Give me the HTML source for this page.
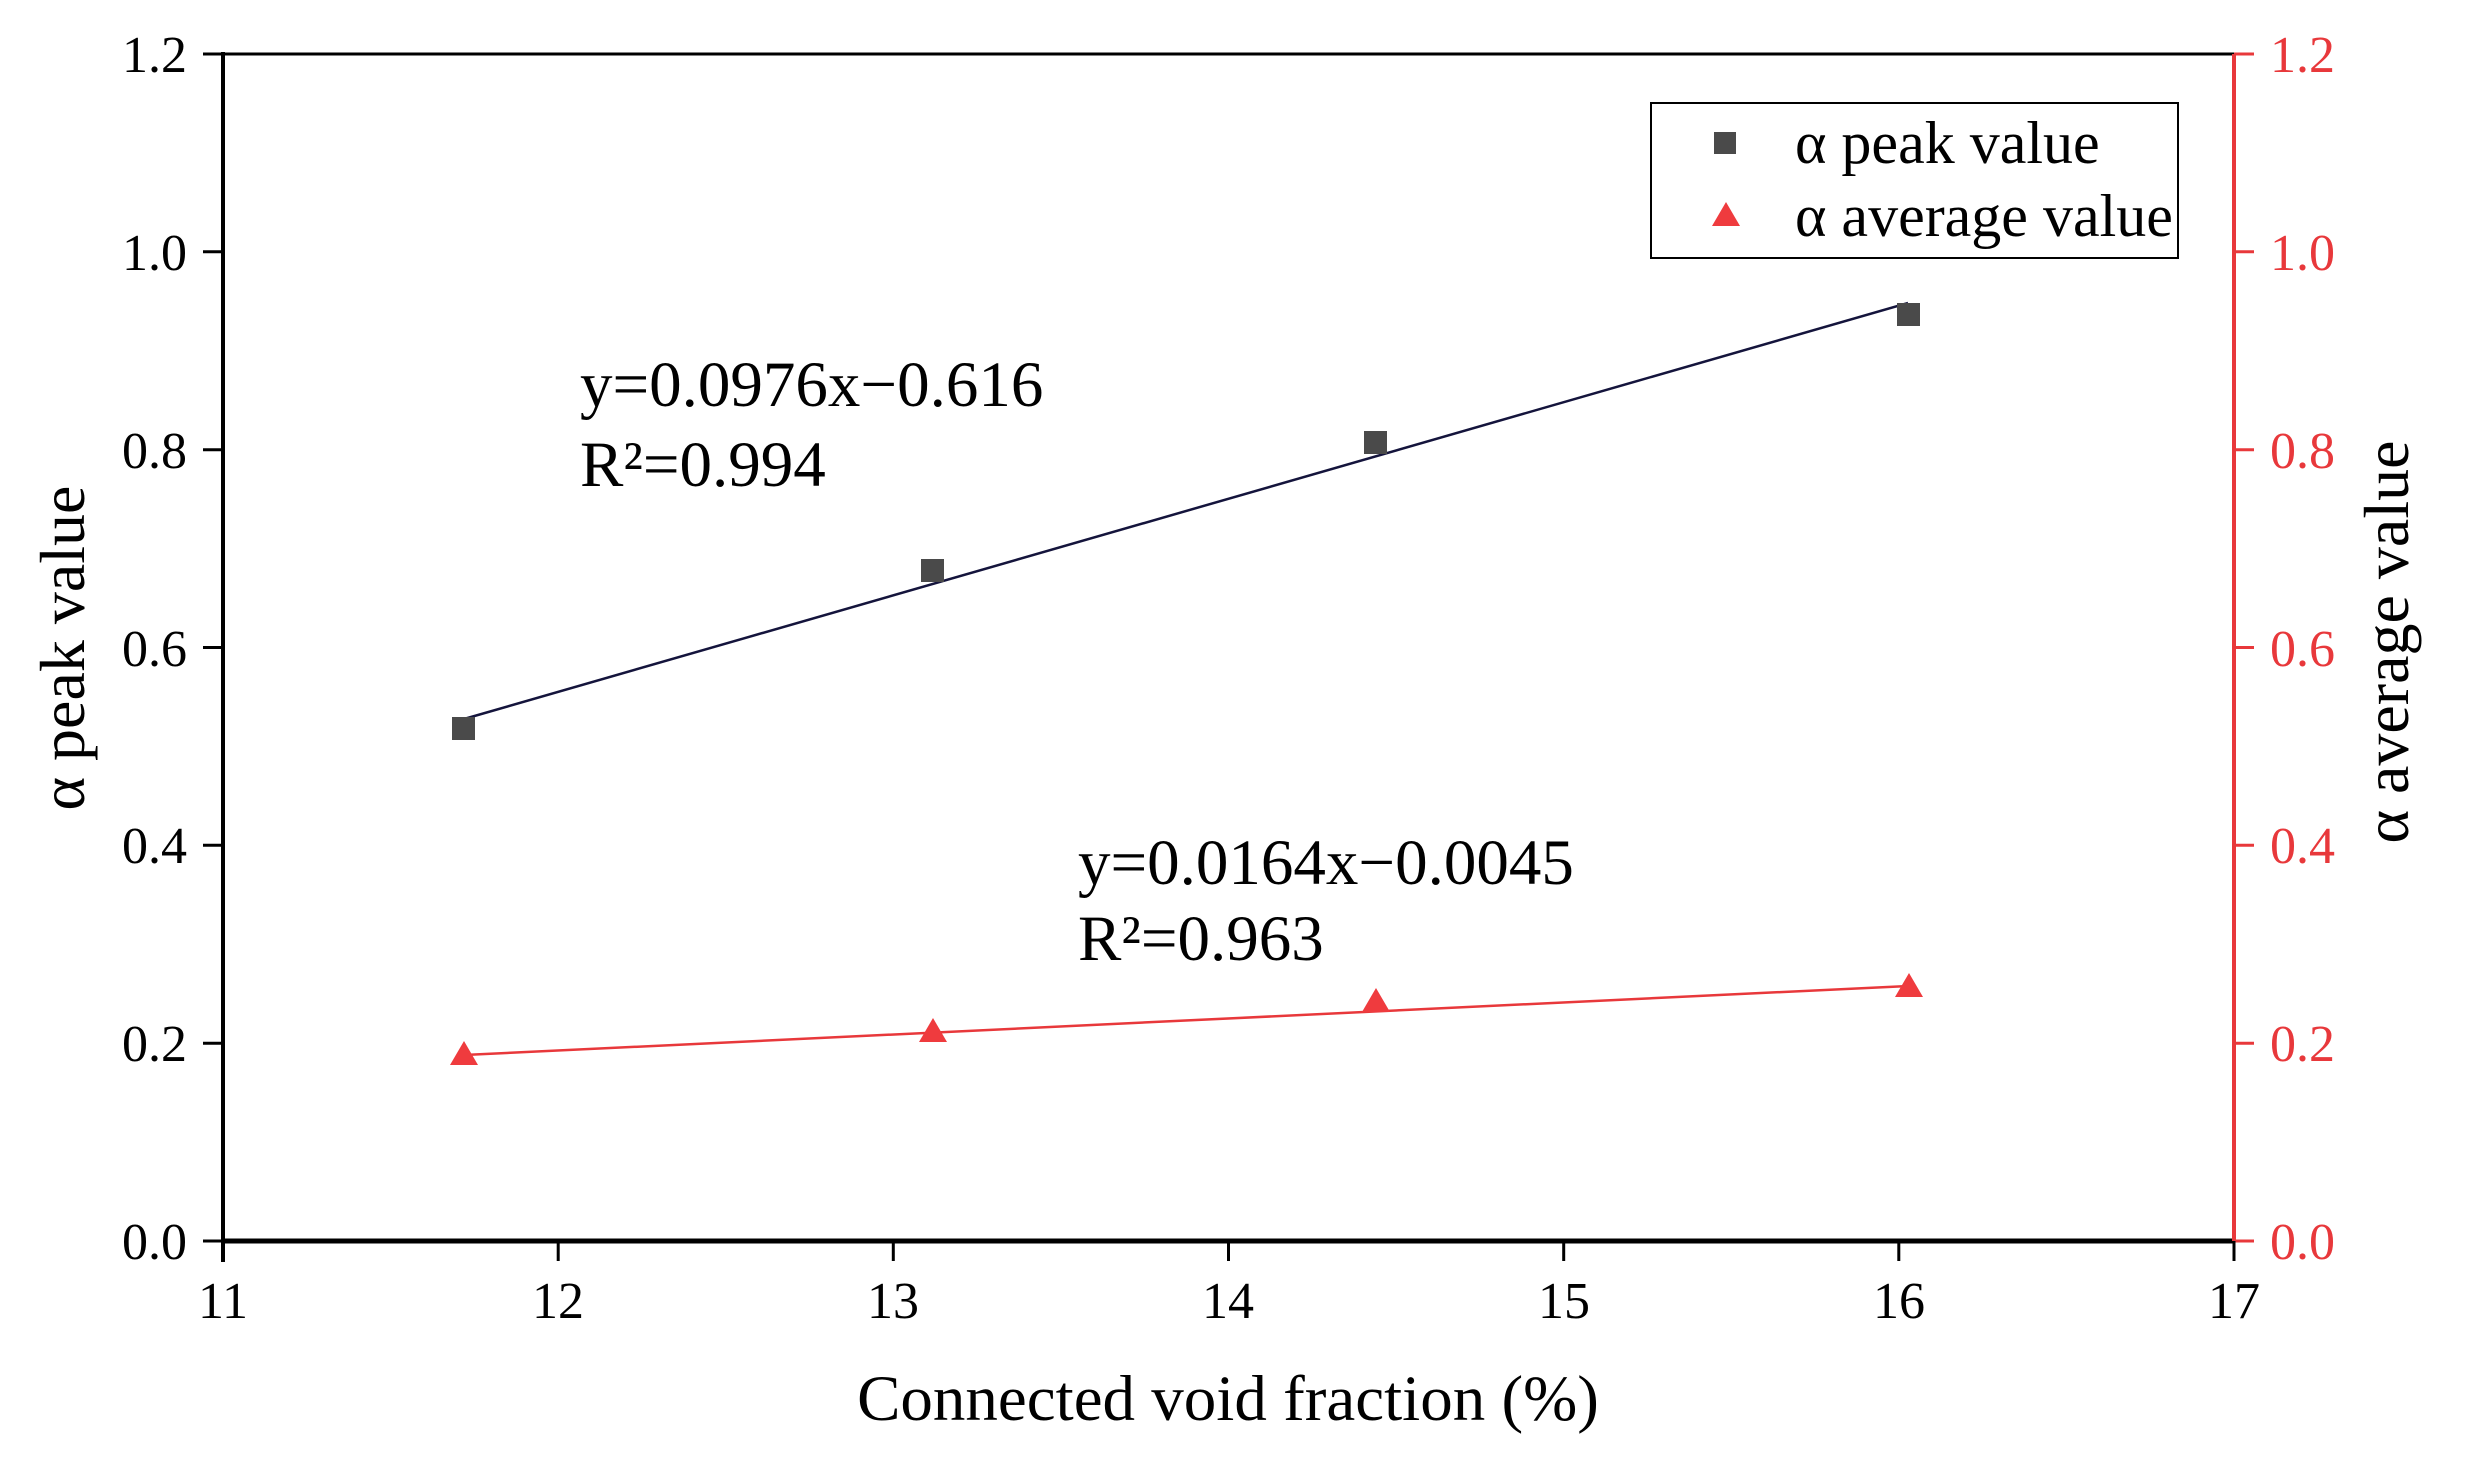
<!DOCTYPE html>
<html><head><meta charset="utf-8"><style>
html,body{margin:0;padding:0;background:#fff;}
svg{display:block;}
text{font-family:"Liberation Serif",serif;}
</style></head><body>
<svg width="2475" height="1475" viewBox="0 0 2475 1475" xmlns="http://www.w3.org/2000/svg">
<rect width="2475" height="1475" fill="#fff"/>
<line x1="223" y1="54" x2="2234" y2="54" stroke="#000" stroke-width="3"/>
<line x1="221" y1="1241" x2="2234" y2="1241" stroke="#000" stroke-width="5"/>
<line x1="223" y1="52" x2="223" y2="1262" stroke="#000" stroke-width="4"/>
<line x1="2234" y1="54" x2="2234" y2="1241" stroke="#e8383b" stroke-width="4"/>
<g stroke="#000" stroke-width="3">
<line x1="203" y1="54" x2="223" y2="54"/><line x1="203" y1="251.8" x2="223" y2="251.8"/>
<line x1="203" y1="449.7" x2="223" y2="449.7"/><line x1="203" y1="647.5" x2="223" y2="647.5"/>
<line x1="203" y1="845.3" x2="223" y2="845.3"/><line x1="203" y1="1043.2" x2="223" y2="1043.2"/>
<line x1="203" y1="1241" x2="223" y2="1241"/>
</g>
<g stroke="#e8383b" stroke-width="3">
<line x1="2234" y1="54" x2="2254" y2="54"/><line x1="2234" y1="251.8" x2="2254" y2="251.8"/>
<line x1="2234" y1="449.7" x2="2254" y2="449.7"/><line x1="2234" y1="647.5" x2="2254" y2="647.5"/>
<line x1="2234" y1="845.3" x2="2254" y2="845.3"/><line x1="2234" y1="1043.2" x2="2254" y2="1043.2"/>
<line x1="2234" y1="1241" x2="2254" y2="1241"/>
</g>
<g stroke="#000" stroke-width="3">
<line x1="223" y1="1241" x2="223" y2="1261"/><line x1="558.2" y1="1241" x2="558.2" y2="1261"/>
<line x1="893.3" y1="1241" x2="893.3" y2="1261"/><line x1="1228.5" y1="1241" x2="1228.5" y2="1261"/>
<line x1="1563.7" y1="1241" x2="1563.7" y2="1261"/><line x1="1898.8" y1="1241" x2="1898.8" y2="1261"/>
<line x1="2234" y1="1241" x2="2234" y2="1261"/>
</g>
<g font-size="52" text-anchor="end" fill="#000">
<text x="187" y="72">1.2</text><text x="187" y="270">1.0</text><text x="187" y="468">0.8</text>
<text x="187" y="666">0.6</text><text x="187" y="863">0.4</text><text x="187" y="1061">0.2</text>
<text x="187" y="1259">0.0</text>
</g>
<g font-size="52" fill="#e8383b">
<text x="2270" y="72">1.2</text><text x="2270" y="270">1.0</text><text x="2270" y="468">0.8</text>
<text x="2270" y="666">0.6</text><text x="2270" y="863">0.4</text><text x="2270" y="1061">0.2</text>
<text x="2270" y="1259">0.0</text>
</g>
<g font-size="52" text-anchor="middle" fill="#000">
<text x="223" y="1318">11</text><text x="558" y="1318">12</text><text x="893" y="1318">13</text>
<text x="1228" y="1318">14</text><text x="1564" y="1318">15</text><text x="1899" y="1318">16</text>
<text x="2234" y="1318">17</text>
</g>
<text x="1228" y="1420" font-size="65" text-anchor="middle">Connected void fraction (%)</text>
<text transform="translate(84,648) rotate(-90)" font-size="64" text-anchor="middle">α peak value</text>
<text transform="translate(2408,642) rotate(-90)" font-size="64" text-anchor="middle">α average value</text>
<line x1="464" y1="719" x2="1908" y2="303" stroke="#14143c" stroke-width="2.5"/>
<line x1="464" y1="1055" x2="1908" y2="986" stroke="#e8383b" stroke-width="2.5"/>
<g fill="#4a4a4a">
<rect x="452" y="717" width="23" height="23"/>
<rect x="921" y="559" width="23" height="23"/>
<rect x="1364" y="431" width="23" height="23"/>
<rect x="1897" y="303" width="23" height="23"/>
</g>
<g fill="#ef3b3e">
<polygon points="464,1041 478,1065 450,1065"/>
<polygon points="933,1018 947,1042 919,1042"/>
<polygon points="1376,988 1390,1012 1362,1012"/>
<polygon points="1909,973 1923,997 1895,997"/>
</g>
<g font-size="65" fill="#000">
<text x="580" y="406">y=0.0976x−0.616</text>
<text x="580" y="486">R²=0.994</text>
<text x="1078" y="884">y=0.0164x−0.0045</text>
<text x="1078" y="960">R²=0.963</text>
</g>
<rect x="1651" y="103" width="527" height="155" fill="#fff" stroke="#000" stroke-width="2"/>
<rect x="1714" y="132" width="22" height="22" fill="#4a4a4a"/>
<polygon points="1726,202 1740,226 1712,226" fill="#ef3b3e"/>
<g font-size="60" fill="#000">
<text x="1795" y="163">α peak value</text>
<text x="1795" y="236">α average value</text>
</g>
</svg>
</body></html>
